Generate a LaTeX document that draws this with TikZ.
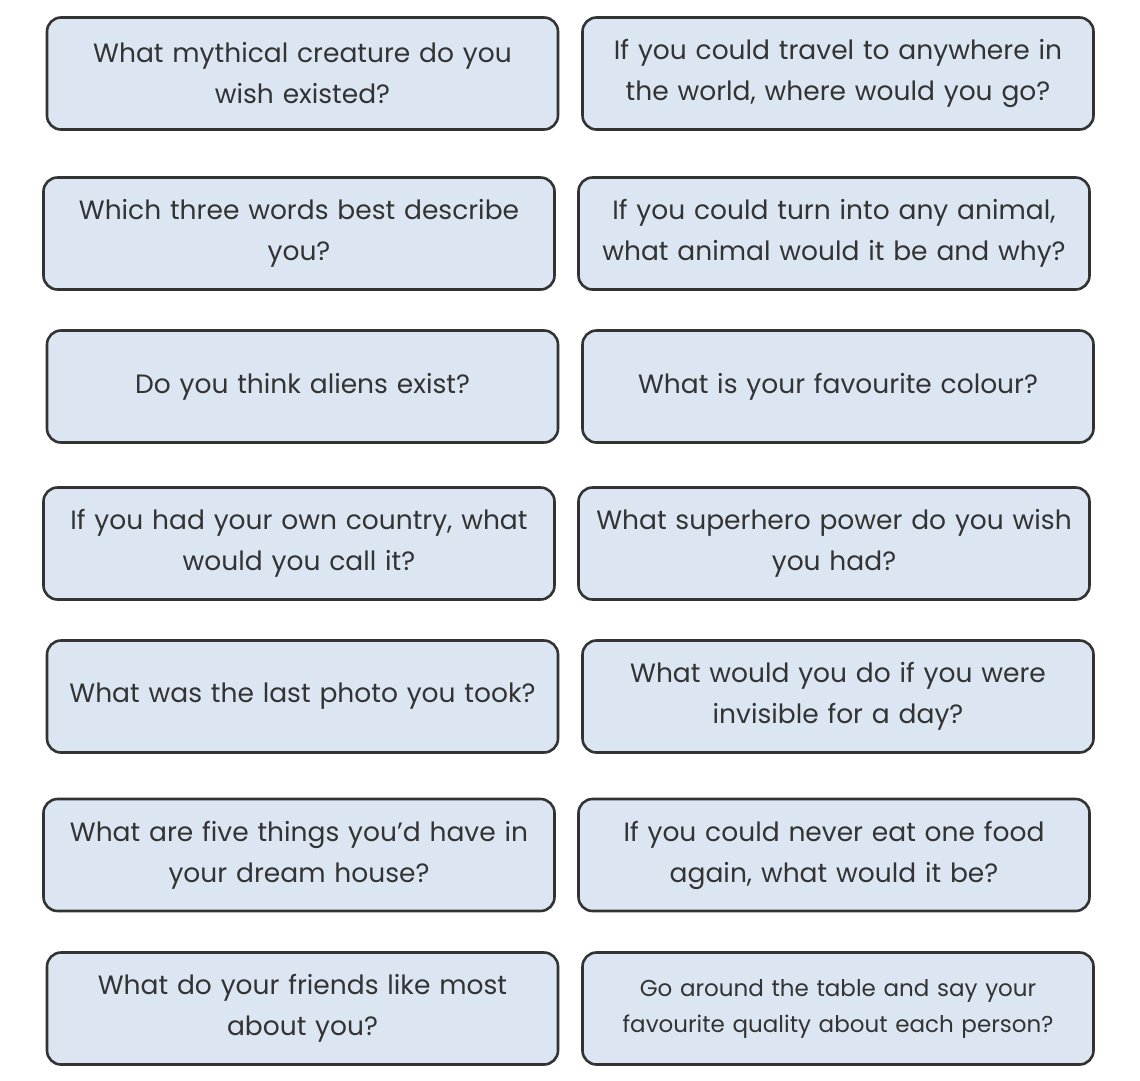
\documentclass[tikz,border=0pt]{standalone}
\usepackage{fontspec}
\setmainfont{Poppins}
\begin{document}
\begin{tikzpicture}[x=1pt,y=-1pt,
  card/.style={draw=black!80,line width=2.6pt,fill=cardblue,rounded corners=14pt,
    minimum width=511pt,minimum height=112pt,align=center,text width=500pt,
    font=\fontsize{26.5}{41}\selectfont,text=black!80,inner sep=0pt}]
\definecolor{cardblue}{HTML}{DCE6F2}
\useasboundingbox (0,0) rectangle (1140,1080);
\node[card] (l1) at (302.5,73.5) {What mythical creature do you\\wish existed?};
\node[card] (r1) at (838,73.5) {If you could travel to anywhere in\\the world, where would you go?};
\node[card] (l2) at (299,233.5) {Which three words best describe\\you?};
\node[card] (r2) at (834,233.5) {If you could turn into any animal,\\what animal would it be and why?};
\node[card] (l3) at (302.5,386.5) {Do you think aliens exist?};
\node[card] (r3) at (838,386.5) {What is your favourite colour?};
\node[card] (l4) at (299,543.5) {If you had your own country, what\\would you call it?};
\node[card] (r4) at (834,543.5) {What superhero power do you wish\\you had?};
\node[card] (l5) at (302.5,696.5) {What was the last photo you took?};
\node[card] (r5) at (838,696.5) {What would you do if you were\\invisible for a day?};
\node[card] (l6) at (299,855) {What are five things you'd have in\\your dream house?};
\node[card] (r6) at (834,855) {If you could never eat one food\\again, what would it be?};
\node[card] (l7) at (302.5,1008.5) {What do your friends like most\\about you?};
\node[card,font=\fontsize{23}{36}\selectfont] (r7) at (838,1008.5) {Go around the table and say your\\favourite quality about each person?};
\end{tikzpicture}
\end{document}
